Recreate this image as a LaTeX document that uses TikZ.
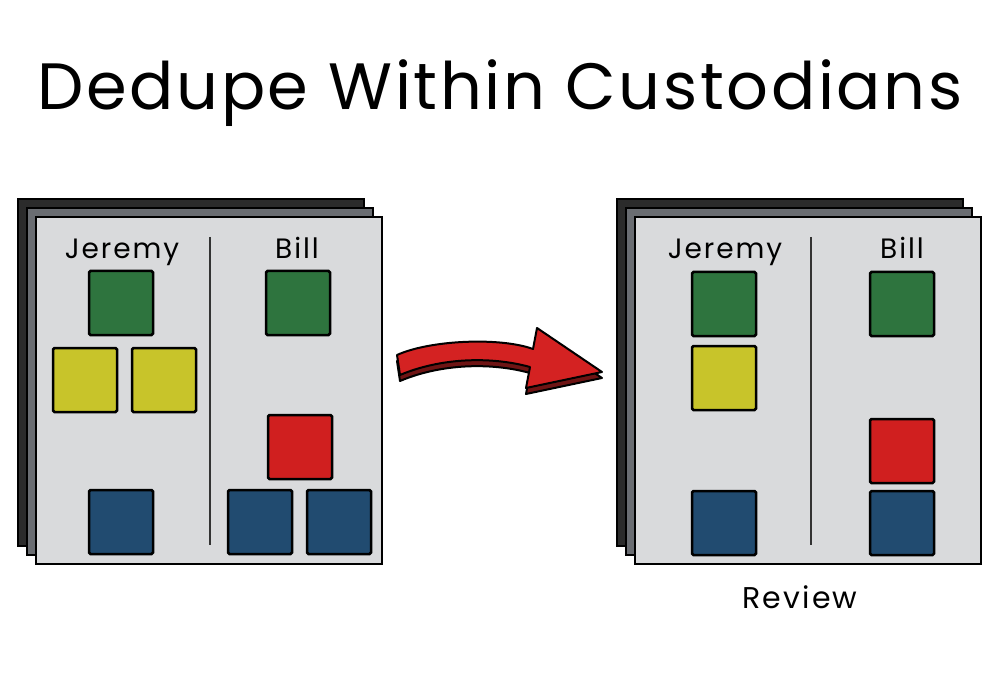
\documentclass[tikz,border=0pt]{standalone}
\usepackage{fontspec}
\newfontfamily\titlefont{Poppins}[LetterSpace=4]
\newfontfamily\labelfont{Poppins}[LetterSpace=7]
\definecolor{sqgreen}{HTML}{2E743E}
\definecolor{sqyellow}{HTML}{C8C42A}
\definecolor{sqred}{HTML}{D01F1F}
\definecolor{sqblue}{HTML}{214B70}
\definecolor{sheetlight}{HTML}{D9DADC}
\definecolor{sheetmid}{HTML}{6A6D72}
\definecolor{sheetback}{HTML}{2B2B2B}
\definecolor{arrowred}{HTML}{D42222}
\definecolor{arrowdark}{HTML}{6E1414}
\begin{document}
\begin{tikzpicture}[x=1pt,y=-1pt,
  sheet/.style={draw=black, line width=2.5pt, minimum width=346pt, minimum height=347pt, inner sep=0pt, outer sep=0pt},
  card/.style={draw=black, line width=2.5pt, minimum size=64pt, inner sep=0pt, rounded corners=1.5pt},
  divider/.style={draw=black!80, line width=1.3pt},
  lbl/.style={font=\fontsize{28}{30}\selectfont\labelfont, anchor=base, inner sep=0pt}]
\useasboundingbox[fill=white] (0,0) rectangle (1000,700);
% title
\node[anchor=base, inner sep=0pt, font=\fontsize{65.5}{70}\selectfont\titlefont] (title) at (500,110) {Dedupe Within Custodians};
% ---------- left stack ----------
\node[sheet, fill=sheetback, anchor=north west] (L1) at (18,199) {};
\node[sheet, fill=sheetmid, anchor=north west] (L2) at (27,208) {};
\node[sheet, fill=sheetlight, anchor=north west] (L3) at (36,217) {};
\coordinate (Ldt) at (210,237);
\coordinate (Ldb) at (210,545);
\draw[divider] (Ldt) -- (Ldb);
\node[lbl] (Ljer) at (122,259) {Jeremy};
\node[lbl] (Lbill) at (297,259) {Bill};
\node[card, fill=sqgreen] (Lg1) at (121,303) {};
\node[card, fill=sqyellow] (Ly1) at (85,380) {};
\node[card, fill=sqyellow] (Ly2) at (164,380) {};
\node[card, fill=sqblue] (Lb1) at (121,522) {};
\node[card, fill=sqgreen] (Lg2) at (298,303) {};
\node[card, fill=sqred] (Lr1) at (300,447) {};
\node[card, fill=sqblue] (Lb2) at (260,522) {};
\node[card, fill=sqblue] (Lb3) at (339,522) {};
% ---------- right stack ----------
\node[sheet, fill=sheetback, anchor=north west] (R1) at (617,199) {};
\node[sheet, fill=sheetmid, anchor=north west] (R2) at (626,208) {};
\node[sheet, fill=sheetlight, anchor=north west] (R3) at (635,217) {};
\coordinate (Rdt) at (811,237);
\coordinate (Rdb) at (811,545);
\draw[divider] (Rdt) -- (Rdb);
\node[lbl] (Rjer) at (725,259) {Jeremy};
\node[lbl] (Rbill) at (902,259) {Bill};
\node[card, fill=sqgreen] (Rg1) at (724,304) {};
\node[card, fill=sqyellow] (Ry1) at (724,378) {};
\node[card, fill=sqblue] (Rb1) at (724,523) {};
\node[card, fill=sqgreen] (Rg2) at (902,304) {};
\node[card, fill=sqred] (Rr1) at (902,451) {};
\node[card, fill=sqblue] (Rb2) at (902,523) {};
\node[lbl, font=\fontsize{30}{32}\selectfont\labelfont] (review) at (800,608) {Review};
% ---------- curved arrow ----------
\begin{scope}[yshift=-6pt]
\draw[fill=arrowdark, line width=2pt, line join=round]
  (397,355) .. controls (430,340) and (500,337) .. (533,349)
  -- (537,328) -- (602,372) -- (526,388) -- (530,367)
  .. controls (490,356) and (440,358) .. (400,375) -- cycle;
\end{scope}
\draw[fill=arrowred, line width=2pt, line join=round]
  (397,355) .. controls (430,340) and (500,337) .. (533,349)
  -- (537,328) -- (602,372) -- (526,388) -- (530,367)
  .. controls (490,356) and (440,358) .. (400,375) -- cycle;
\end{tikzpicture}
\end{document}
